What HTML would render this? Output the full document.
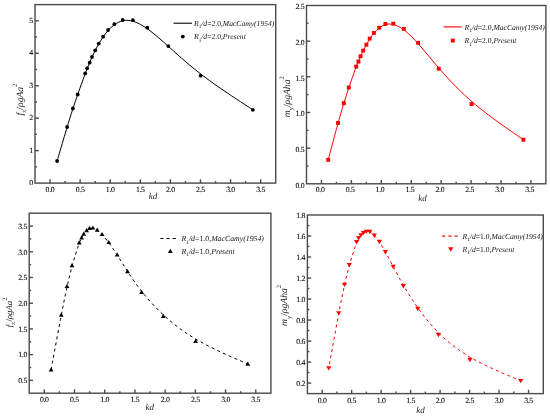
<!DOCTYPE html>
<html><head><meta charset="utf-8"><title>Figure</title>
<style>
html,body{margin:0;padding:0;background:#fff;}
body{width:550px;height:416px;overflow:hidden;}
svg{display:block;font-family:"Liberation Serif","Times New Roman",serif;text-rendering:geometricPrecision;}
</style></head><body>
<svg width="550" height="416" viewBox="0 0 550 416">
<rect width="550" height="416" fill="#fff"/>
<g stroke="#4a4a4a" stroke-width="1.4" fill="none"><line x1="50.04" y1="183.1" x2="50.04" y2="179.3"/><line x1="80.13" y1="183.1" x2="80.13" y2="179.3"/><line x1="110.22" y1="183.1" x2="110.22" y2="179.3"/><line x1="140.31" y1="183.1" x2="140.31" y2="179.3"/><line x1="170.39" y1="183.1" x2="170.39" y2="179.3"/><line x1="200.48" y1="183.1" x2="200.48" y2="179.3"/><line x1="230.57" y1="183.1" x2="230.57" y2="179.3"/><line x1="260.66" y1="183.1" x2="260.66" y2="179.3"/><line x1="65.09" y1="183.1" x2="65.09" y2="181.1"/><line x1="95.17" y1="183.1" x2="95.17" y2="181.1"/><line x1="125.26" y1="183.1" x2="125.26" y2="181.1"/><line x1="155.35" y1="183.1" x2="155.35" y2="181.1"/><line x1="185.44" y1="183.1" x2="185.44" y2="181.1"/><line x1="215.52" y1="183.1" x2="215.52" y2="181.1"/><line x1="245.61" y1="183.1" x2="245.61" y2="181.1"/><line x1="35" y1="150.65" x2="38.8" y2="150.65"/><line x1="35" y1="118.19" x2="38.8" y2="118.19"/><line x1="35" y1="85.74" x2="38.8" y2="85.74"/><line x1="35" y1="53.28" x2="38.8" y2="53.28"/><line x1="35" y1="20.83" x2="38.8" y2="20.83"/><line x1="35" y1="166.87" x2="37" y2="166.87"/><line x1="35" y1="134.42" x2="37" y2="134.42"/><line x1="35" y1="101.96" x2="37" y2="101.96"/><line x1="35" y1="69.51" x2="37" y2="69.51"/><line x1="35" y1="37.05" x2="37" y2="37.05"/><rect x="35" y="4.6" width="240.7" height="178.5" fill="none"/></g><g fill="#000" stroke="#000" stroke-width="0.08" font-size="7.8" letter-spacing="-0.3"><text x="32.8" y="185.3" text-anchor="end">0</text><text x="32.8" y="152.85" text-anchor="end">1</text><text x="32.8" y="120.39" text-anchor="end">2</text><text x="32.8" y="87.94" text-anchor="end">3</text><text x="32.8" y="55.48" text-anchor="end">4</text><text x="32.8" y="23.03" text-anchor="end">5</text><text x="50.04" y="192" text-anchor="middle">0.0</text><text x="80.13" y="192" text-anchor="middle">0.5</text><text x="110.22" y="192" text-anchor="middle">1.0</text><text x="140.31" y="192" text-anchor="middle">1.5</text><text x="170.39" y="192" text-anchor="middle">2.0</text><text x="200.48" y="192" text-anchor="middle">2.5</text><text x="230.57" y="192" text-anchor="middle">3.0</text><text x="260.66" y="192" text-anchor="middle">3.5</text></g>
<g stroke="#4a4a4a" stroke-width="1.4" fill="none"><line x1="321.46" y1="183.8" x2="321.46" y2="180"/><line x1="351.39" y1="183.8" x2="351.39" y2="180"/><line x1="381.31" y1="183.8" x2="381.31" y2="180"/><line x1="411.24" y1="183.8" x2="411.24" y2="180"/><line x1="441.16" y1="183.8" x2="441.16" y2="180"/><line x1="471.09" y1="183.8" x2="471.09" y2="180"/><line x1="501.01" y1="183.8" x2="501.01" y2="180"/><line x1="530.94" y1="183.8" x2="530.94" y2="180"/><line x1="336.43" y1="183.8" x2="336.43" y2="181.8"/><line x1="366.35" y1="183.8" x2="366.35" y2="181.8"/><line x1="396.27" y1="183.8" x2="396.27" y2="181.8"/><line x1="426.2" y1="183.8" x2="426.2" y2="181.8"/><line x1="456.12" y1="183.8" x2="456.12" y2="181.8"/><line x1="486.05" y1="183.8" x2="486.05" y2="181.8"/><line x1="515.97" y1="183.8" x2="515.97" y2="181.8"/><line x1="306.5" y1="148.14" x2="310.3" y2="148.14"/><line x1="306.5" y1="112.48" x2="310.3" y2="112.48"/><line x1="306.5" y1="76.82" x2="310.3" y2="76.82"/><line x1="306.5" y1="41.16" x2="310.3" y2="41.16"/><line x1="306.5" y1="165.97" x2="308.5" y2="165.97"/><line x1="306.5" y1="130.31" x2="308.5" y2="130.31"/><line x1="306.5" y1="94.65" x2="308.5" y2="94.65"/><line x1="306.5" y1="58.99" x2="308.5" y2="58.99"/><line x1="306.5" y1="23.33" x2="308.5" y2="23.33"/><rect x="306.5" y="5.5" width="239.4" height="178.3" fill="none"/></g><g fill="#000" stroke="#000" stroke-width="0.08" font-size="7.8" letter-spacing="-0.3"><text x="304.3" y="187.5" text-anchor="end">0.0</text><text x="304.3" y="151.84" text-anchor="end">0.5</text><text x="304.3" y="116.18" text-anchor="end">1.0</text><text x="304.3" y="80.52" text-anchor="end">1.5</text><text x="304.3" y="44.86" text-anchor="end">2.0</text><text x="304.3" y="9.2" text-anchor="end">2.5</text><text x="320.16" y="192.1" text-anchor="middle">0.0</text><text x="350.09" y="192.1" text-anchor="middle">0.5</text><text x="380.01" y="192.1" text-anchor="middle">1.0</text><text x="409.94" y="192.1" text-anchor="middle">1.5</text><text x="439.86" y="192.1" text-anchor="middle">2.0</text><text x="469.79" y="192.1" text-anchor="middle">2.5</text><text x="499.71" y="192.1" text-anchor="middle">3.0</text><text x="529.64" y="192.1" text-anchor="middle">3.5</text></g>
<g stroke="#4a4a4a" stroke-width="1.4" fill="none"><line x1="44.31" y1="393.2" x2="44.31" y2="389.4"/><line x1="74.52" y1="393.2" x2="74.52" y2="389.4"/><line x1="104.73" y1="393.2" x2="104.73" y2="389.4"/><line x1="134.94" y1="393.2" x2="134.94" y2="389.4"/><line x1="165.16" y1="393.2" x2="165.16" y2="389.4"/><line x1="195.37" y1="393.2" x2="195.37" y2="389.4"/><line x1="225.58" y1="393.2" x2="225.58" y2="389.4"/><line x1="255.79" y1="393.2" x2="255.79" y2="389.4"/><line x1="59.41" y1="393.2" x2="59.41" y2="391.2"/><line x1="89.62" y1="393.2" x2="89.62" y2="391.2"/><line x1="119.84" y1="393.2" x2="119.84" y2="391.2"/><line x1="150.05" y1="393.2" x2="150.05" y2="391.2"/><line x1="180.26" y1="393.2" x2="180.26" y2="391.2"/><line x1="210.47" y1="393.2" x2="210.47" y2="391.2"/><line x1="240.69" y1="393.2" x2="240.69" y2="391.2"/><line x1="29.2" y1="380.34" x2="33" y2="380.34"/><line x1="29.2" y1="354.63" x2="33" y2="354.63"/><line x1="29.2" y1="328.91" x2="33" y2="328.91"/><line x1="29.2" y1="303.2" x2="33" y2="303.2"/><line x1="29.2" y1="277.49" x2="33" y2="277.49"/><line x1="29.2" y1="251.77" x2="33" y2="251.77"/><line x1="29.2" y1="226.06" x2="33" y2="226.06"/><line x1="29.2" y1="367.49" x2="31.2" y2="367.49"/><line x1="29.2" y1="341.77" x2="31.2" y2="341.77"/><line x1="29.2" y1="316.06" x2="31.2" y2="316.06"/><line x1="29.2" y1="290.34" x2="31.2" y2="290.34"/><line x1="29.2" y1="264.63" x2="31.2" y2="264.63"/><line x1="29.2" y1="238.91" x2="31.2" y2="238.91"/><rect x="29.2" y="213.2" width="241.7" height="180" fill="none"/></g><g fill="#000" stroke="#000" stroke-width="0.08" font-size="7.8" letter-spacing="-0.3"><text x="27" y="383.14" text-anchor="end">0.5</text><text x="27" y="357.43" text-anchor="end">1.0</text><text x="27" y="331.71" text-anchor="end">1.5</text><text x="27" y="306" text-anchor="end">2.0</text><text x="27" y="280.29" text-anchor="end">2.5</text><text x="27" y="254.57" text-anchor="end">3.0</text><text x="27" y="228.86" text-anchor="end">3.5</text><text x="44.31" y="402.2" text-anchor="middle">0.0</text><text x="74.52" y="402.2" text-anchor="middle">0.5</text><text x="104.73" y="402.2" text-anchor="middle">1.0</text><text x="134.94" y="402.2" text-anchor="middle">1.5</text><text x="165.16" y="402.2" text-anchor="middle">2.0</text><text x="195.37" y="402.2" text-anchor="middle">2.5</text><text x="225.58" y="402.2" text-anchor="middle">3.0</text><text x="255.79" y="402.2" text-anchor="middle">3.5</text></g>
<g stroke="#4a4a4a" stroke-width="1.4" fill="none"><line x1="322.14" y1="393.6" x2="322.14" y2="389.8"/><line x1="351.63" y1="393.6" x2="351.63" y2="389.8"/><line x1="381.12" y1="393.6" x2="381.12" y2="389.8"/><line x1="410.61" y1="393.6" x2="410.61" y2="389.8"/><line x1="440.09" y1="393.6" x2="440.09" y2="389.8"/><line x1="469.58" y1="393.6" x2="469.58" y2="389.8"/><line x1="499.07" y1="393.6" x2="499.07" y2="389.8"/><line x1="528.56" y1="393.6" x2="528.56" y2="389.8"/><line x1="336.89" y1="393.6" x2="336.89" y2="391.6"/><line x1="366.38" y1="393.6" x2="366.38" y2="391.6"/><line x1="395.86" y1="393.6" x2="395.86" y2="391.6"/><line x1="425.35" y1="393.6" x2="425.35" y2="391.6"/><line x1="454.84" y1="393.6" x2="454.84" y2="391.6"/><line x1="484.32" y1="393.6" x2="484.32" y2="391.6"/><line x1="513.81" y1="393.6" x2="513.81" y2="391.6"/><line x1="307.4" y1="383.09" x2="311.2" y2="383.09"/><line x1="307.4" y1="362.08" x2="311.2" y2="362.08"/><line x1="307.4" y1="341.07" x2="311.2" y2="341.07"/><line x1="307.4" y1="320.06" x2="311.2" y2="320.06"/><line x1="307.4" y1="299.05" x2="311.2" y2="299.05"/><line x1="307.4" y1="278.04" x2="311.2" y2="278.04"/><line x1="307.4" y1="257.02" x2="311.2" y2="257.02"/><line x1="307.4" y1="236.01" x2="311.2" y2="236.01"/><line x1="307.4" y1="372.59" x2="309.4" y2="372.59"/><line x1="307.4" y1="351.58" x2="309.4" y2="351.58"/><line x1="307.4" y1="330.56" x2="309.4" y2="330.56"/><line x1="307.4" y1="309.55" x2="309.4" y2="309.55"/><line x1="307.4" y1="288.54" x2="309.4" y2="288.54"/><line x1="307.4" y1="267.53" x2="309.4" y2="267.53"/><line x1="307.4" y1="246.52" x2="309.4" y2="246.52"/><line x1="307.4" y1="225.51" x2="309.4" y2="225.51"/><rect x="307.4" y="215" width="235.9" height="178.6" fill="none"/></g><g fill="#000" stroke="#000" stroke-width="0.08" font-size="7.8" letter-spacing="-0.3"><text x="305.2" y="386.29" text-anchor="end">0.2</text><text x="305.2" y="365.28" text-anchor="end">0.4</text><text x="305.2" y="344.27" text-anchor="end">0.6</text><text x="305.2" y="323.26" text-anchor="end">0.8</text><text x="305.2" y="302.25" text-anchor="end">1.0</text><text x="305.2" y="281.24" text-anchor="end">1.2</text><text x="305.2" y="260.22" text-anchor="end">1.4</text><text x="305.2" y="239.21" text-anchor="end">1.6</text><text x="305.2" y="218.2" text-anchor="end">1.8</text><text x="322.14" y="402.6" text-anchor="middle">0.0</text><text x="351.63" y="402.6" text-anchor="middle">0.5</text><text x="381.12" y="402.6" text-anchor="middle">1.0</text><text x="410.61" y="402.6" text-anchor="middle">1.5</text><text x="440.09" y="402.6" text-anchor="middle">2.0</text><text x="469.58" y="402.6" text-anchor="middle">2.5</text><text x="499.07" y="402.6" text-anchor="middle">3.0</text><text x="528.56" y="402.6" text-anchor="middle">3.5</text></g>
<path d="M57.1 161C57.1 161 57.1 161 58.77 155.33C60.43 149.67 63.77 138.33 66.4 129.57C69.03 120.8 70.97 114.6 72.73 109.18C74.5 103.77 76.1 99.13 78.15 93.3C80.2 87.47 82.7 80.43 84.28 76.07C85.87 71.7 86.53 70 87.28 68.22C88.03 66.43 88.87 64.57 89.67 62.67C90.47 60.77 91.23 58.83 92.15 56.77C93.07 54.7 94.13 52.5 95.26 50.28C96.38 48.07 97.57 45.83 98.88 43.57C100.2 41.3 101.65 39 103.21 36.73C104.77 34.47 106.43 32.23 108.32 30.15C110.2 28.07 112.3 26.13 114.73 24.47C117.17 22.8 119.93 21.4 123.02 20.73C126.1 20.07 129.5 20.13 133.6 21.42C137.7 22.7 142.5 25.2 148.4 29.52C154.3 33.83 161.3 39.97 170.18 47.97C179.07 55.97 189.83 65.83 203.93 76.45C218.03 87.07 235.47 98.43 244.18 104.12C252.9 109.8 252.9 109.8 252.9 109.8" fill="none" stroke="#000" stroke-linejoin="round" stroke-width="1.0"/>
<path d="M328.2 159.8C328.2 159.8 328.2 159.8 329.83 153.67C331.47 147.53 334.73 135.27 337.33 125.83C339.93 116.4 341.87 109.8 343.67 103.88C345.47 97.97 347.13 92.73 349.2 86.63C351.27 80.53 353.73 73.57 355.33 69.25C356.93 64.93 357.67 63.27 358.38 61.55C359.1 59.83 359.8 58.07 360.6 56.23C361.4 54.4 362.3 52.5 363.28 50.57C364.27 48.63 365.33 46.67 366.42 44.67C367.5 42.67 368.6 40.63 369.85 38.67C371.1 36.7 372.5 34.8 374.08 32.98C375.67 31.17 377.43 29.43 379.35 27.95C381.27 26.47 383.33 25.23 385.68 24.57C388.03 23.9 390.67 23.8 393.75 24.62C396.83 25.43 400.37 27.17 404.5 30.35C408.63 33.53 413.37 38.17 419.18 44.8C424.98 51.43 431.87 60.07 440.78 70.28C449.7 80.48 460.65 92.27 474.76 104.1C488.87 115.93 506.13 127.82 514.77 133.76C523.4 139.7 523.4 139.7 523.4 139.7" fill="none" stroke="#f00" stroke-width="1.0"/>
<path d="M51.1 369.7C51.1 369.7 51.1 369.7 52.78 360.6C54.47 351.5 57.83 333.3 60.48 319.42C63.13 305.53 65.07 295.97 66.87 287.7C68.67 279.43 70.33 272.47 72.37 265.18C74.4 257.9 76.8 250.3 78.4 245.67C80 241.03 80.8 239.37 81.55 237.93C82.3 236.5 83 235.3 83.83 234.1C84.67 232.9 85.63 231.7 86.6 230.73C87.57 229.77 88.53 229.03 89.58 228.6C90.63 228.17 91.77 228.03 93.05 228.32C94.33 228.6 95.77 229.3 97.3 230.38C98.83 231.47 100.47 232.93 102.4 235C104.33 237.07 106.57 239.73 109.08 243.15C111.6 246.57 114.4 250.73 117.52 255.6C120.63 260.47 124.07 266.03 128.13 272.27C132.2 278.5 136.9 285.4 142.87 292.83C148.83 300.27 156.07 308.23 165.07 316.4C174.07 324.57 184.83 332.93 198.92 340.9C213 348.87 230.4 356.43 239.1 360.22C247.8 364 247.8 364 247.8 364" fill="none" stroke="#000" stroke-width="1.0" stroke-dasharray="3.0 3.2" stroke-dashoffset="0"/>
<path d="M328.8 367.9C328.8 367.9 328.8 367.9 330.45 358.73C332.1 349.57 335.4 331.23 338.02 317.32C340.63 303.4 342.57 293.9 344.33 285.87C346.1 277.83 347.7 271.27 349.72 264.17C351.73 257.07 354.17 249.43 355.72 244.97C357.27 240.5 357.93 239.2 358.65 238.05C359.37 236.9 360.13 235.9 360.93 235.03C361.73 234.17 362.57 233.43 363.47 232.85C364.37 232.27 365.33 231.83 366.4 231.65C367.47 231.47 368.63 231.53 369.97 232.18C371.3 232.83 372.8 234.07 374.4 235.72C376 237.37 377.7 239.43 379.55 242.18C381.4 244.93 383.4 248.37 385.7 252.52C388 256.67 390.6 261.53 393.58 267.2C396.57 272.87 399.93 279.33 404.03 286.37C408.13 293.4 412.97 301 418.82 309.13C424.67 317.27 431.53 325.93 440.22 334.42C448.9 342.9 459.4 351.2 473.12 358.88C486.83 366.57 503.77 373.63 512.23 377.17C520.7 380.7 520.7 380.7 520.7 380.7" fill="none" stroke="#f00" stroke-width="1.0" stroke-dasharray="3.0 3.2" stroke-dashoffset="2.4"/>
<g fill="#000"><circle cx="57.1" cy="161" r="1.9"/><circle cx="67.1" cy="127" r="1.9"/><circle cx="72.9" cy="108.4" r="1.9"/><circle cx="77.7" cy="94.5" r="1.9"/><circle cx="85.2" cy="73.4" r="1.9"/><circle cx="87.2" cy="68.3" r="1.9"/><circle cx="89.7" cy="62.7" r="1.9"/><circle cx="92" cy="56.9" r="1.9"/><circle cx="95.2" cy="50.3" r="1.9"/><circle cx="98.75" cy="43.6" r="1.9"/><circle cx="103.1" cy="36.7" r="1.9"/><circle cx="108.1" cy="30" r="1.9"/><circle cx="114.4" cy="24.2" r="1.9"/><circle cx="122.7" cy="20" r="1.9"/><circle cx="132.9" cy="20.2" r="1.9"/><circle cx="147.3" cy="27.7" r="1.9"/><circle cx="168.3" cy="46.1" r="1.9"/><circle cx="200.6" cy="75.7" r="1.9"/><circle cx="252.9" cy="109.8" r="1.9"/></g>
<g fill="#f00"><rect x="326.25" y="157.85" width="3.9" height="3.9"/><rect x="336.05" y="121.05" width="3.9" height="3.9"/><rect x="341.85" y="101.25" width="3.9" height="3.9"/><rect x="346.85" y="85.55" width="3.9" height="3.9"/><rect x="354.25" y="64.65" width="3.9" height="3.9"/><rect x="356.45" y="59.65" width="3.9" height="3.9"/><rect x="358.55" y="54.35" width="3.9" height="3.9"/><rect x="361.25" y="48.65" width="3.9" height="3.9"/><rect x="364.45" y="42.75" width="3.9" height="3.9"/><rect x="367.75" y="36.65" width="3.9" height="3.9"/><rect x="371.95" y="30.95" width="3.9" height="3.9"/><rect x="377.25" y="25.75" width="3.9" height="3.9"/><rect x="383.45" y="22.05" width="3.9" height="3.9"/><rect x="391.35" y="21.75" width="3.9" height="3.9"/><rect x="401.95" y="26.95" width="3.9" height="3.9"/><rect x="416.15" y="40.85" width="3.9" height="3.9"/><rect x="436.8" y="66.75" width="3.9" height="3.9"/><rect x="469.65" y="102.1" width="3.9" height="3.9"/><rect x="521.45" y="137.75" width="3.9" height="3.9"/></g>
<g fill="#000"><path d="M51.1 367.18L53.5 371.38L48.7 371.38Z"/><path d="M61.2 312.58L63.6 316.78L58.8 316.78Z"/><path d="M67 283.88L69.4 288.08L64.6 288.08Z"/><path d="M72 262.98L74.4 267.18L69.6 267.18Z"/><path d="M79.2 240.18L81.6 244.38L76.8 244.38Z"/><path d="M81.6 235.18L84 239.38L79.2 239.38Z"/><path d="M83.7 231.58L86.1 235.78L81.3 235.78Z"/><path d="M86.6 227.98L89 232.18L84.2 232.18Z"/><path d="M89.5 225.78L91.9 229.98L87.1 229.98Z"/><path d="M92.9 225.38L95.3 229.58L90.5 229.58Z"/><path d="M97.2 227.48L99.6 231.68L94.8 231.68Z"/><path d="M102.1 231.88L104.5 236.08L99.7 236.08Z"/><path d="M108.8 239.88L111.2 244.08L106.4 244.08Z"/><path d="M117.2 252.38L119.6 256.58L114.8 256.58Z"/><path d="M127.5 269.08L129.9 273.28L125.1 273.28Z"/><path d="M141.6 289.78L144 293.98L139.2 293.98Z"/><path d="M163.3 313.68L165.7 317.88L160.9 317.88Z"/><path d="M195.6 338.78L198 342.98L193.2 342.98Z"/><path d="M247.8 361.48L250.2 365.68L245.4 365.68Z"/></g>
<g fill="#f00"><path d="M328.8 370.54L331.4 366.14L326.2 366.14Z"/><path d="M338.7 315.54L341.3 311.14L336.1 311.14Z"/><path d="M344.5 287.04L347.1 282.64L341.9 282.64Z"/><path d="M349.3 267.34L351.9 262.94L346.7 262.94Z"/><path d="M356.6 244.44L359.2 240.04L354 240.04Z"/><path d="M358.6 240.54L361.2 236.14L356 236.14Z"/><path d="M360.9 237.54L363.5 233.14L358.3 233.14Z"/><path d="M363.4 235.34L366 230.94L360.8 230.94Z"/><path d="M366.3 234.04L368.9 229.64L363.7 229.64Z"/><path d="M369.8 234.24L372.4 229.84L367.2 229.84Z"/><path d="M374.3 237.94L376.9 233.54L371.7 233.54Z"/><path d="M379.4 244.14L382 239.74L376.8 239.74Z"/><path d="M385.4 254.44L388 250.04L382.8 250.04Z"/><path d="M393.2 269.04L395.8 264.64L390.6 264.64Z"/><path d="M403.3 288.44L405.9 284.04L400.7 284.04Z"/><path d="M417.8 311.24L420.4 306.84L415.2 306.84Z"/><path d="M438.4 337.24L441 332.84L435.8 332.84Z"/><path d="M469.9 362.14L472.5 357.74L467.3 357.74Z"/><path d="M520.7 383.34L523.3 378.94L518.1 378.94Z"/></g>
<g font-size="7.6" fill="#111"><line x1="173.5" y1="23.2" x2="192" y2="23.2" stroke="#000" stroke-width="1.1"/><circle cx="182.8" cy="36.6" r="1.9" fill="#000"/><text x="194" y="25.9"><tspan font-style="italic">R</tspan><tspan font-size="5.2" dy="2.4">1</tspan><tspan dy="-2.4" font-style="italic">/d</tspan>=2.0,<tspan font-style="italic">MacCamy(1954)</tspan></text><text x="194" y="39.3"><tspan font-style="italic">R</tspan><tspan font-size="5.2" dy="2.4">1</tspan><tspan dy="-2.4" font-style="italic">/d</tspan>=2.0,<tspan font-style="italic">Present</tspan></text></g>
<g font-size="7.6" fill="#111"><line x1="443.5" y1="26.9" x2="461.8" y2="26.9" stroke="#f00" stroke-width="1.1"/><rect x="450.85" y="38.65" width="3.9" height="3.9" fill="#f00"/><text x="464.6" y="29.6"><tspan font-style="italic">R</tspan><tspan font-size="5.2" dy="2.4">1</tspan><tspan dy="-2.4" font-style="italic">/d</tspan>=2.0,<tspan font-style="italic">MacCamy(1954)</tspan></text><text x="464.6" y="43.3"><tspan font-style="italic">R</tspan><tspan font-size="5.2" dy="2.4">1</tspan><tspan dy="-2.4" font-style="italic">/d</tspan>=2.0,<tspan font-style="italic">Present</tspan></text></g>
<g font-size="7.8" fill="#111"><line x1="160.4" y1="238.5" x2="176" y2="238.5" stroke="#000" stroke-width="1.1" stroke-dasharray="3.0 3.2"/><g fill="#000"><path d="M170.3 248.68L172.7 252.88L167.9 252.88Z"/></g><text x="181.6" y="241.2"><tspan font-style="italic">R</tspan><tspan font-size="5.2" dy="2.4">1</tspan><tspan dy="-2.4" font-style="italic">/d</tspan>=1.0,<tspan font-style="italic">MacCamy(1954)</tspan></text><text x="181.6" y="253.9"><tspan font-style="italic">R</tspan><tspan font-size="5.2" dy="2.4">1</tspan><tspan dy="-2.4" font-style="italic">/d</tspan>=1.0,<tspan font-style="italic">Present</tspan></text></g>
<g font-size="7.6" fill="#111"><line x1="442.2" y1="236.1" x2="457.6" y2="236.1" stroke="#f00" stroke-width="1.1" stroke-dasharray="3.0 3.2"/><g fill="#f00"><path d="M450.7 251.74L453.3 247.34L448.1 247.34Z"/></g><text x="462.6" y="238.8"><tspan font-style="italic">R</tspan><tspan font-size="5.2" dy="2.4">1</tspan><tspan dy="-2.4" font-style="italic">/d</tspan>=1.0,<tspan font-style="italic">MacCamy(1954)</tspan></text><text x="462.6" y="251.8"><tspan font-style="italic">R</tspan><tspan font-size="5.2" dy="2.4">1</tspan><tspan dy="-2.4" font-style="italic">/d</tspan>=1.0,<tspan font-style="italic">Present</tspan></text></g>
<text x="153" y="199.3" text-anchor="middle" font-style="italic" font-size="9.0" fill="#222">kd</text>
<text x="422.6" y="200.8" text-anchor="middle" font-style="italic" font-size="9.0" fill="#222">kd</text>
<text x="149.7" y="410" text-anchor="middle" font-style="italic" font-size="9.0" fill="#222">kd</text>
<text x="420.4" y="412.8" text-anchor="middle" font-style="italic" font-size="9.0" fill="#222">kd</text>
<text transform="translate(22.9 99.6) rotate(-90)" text-anchor="middle" font-size="9.6" fill="#222"><tspan font-style="italic">f</tspan><tspan font-size="6.6" dy="3.3">x</tspan><tspan dy="-3.3">/</tspan><tspan font-style="italic">ρgAa</tspan><tspan font-size="6.6" dy="-5.8">2</tspan></text>
<text transform="translate(290 96.8) rotate(-90)" text-anchor="middle" font-size="9.6" fill="#222"><tspan font-style="italic">m</tspan><tspan font-size="6.6" dy="3.3">y</tspan><tspan dy="-3.3">/</tspan><tspan font-style="italic">ρgAha</tspan><tspan font-size="6.6" dy="-5.8">2</tspan></text>
<text transform="translate(11.6 312.4) rotate(-90)" text-anchor="middle" font-size="8.8" fill="#222"><tspan font-style="italic">f</tspan><tspan font-size="6.6" dy="3.3">x</tspan><tspan dy="-3.3">/</tspan><tspan font-style="italic">ρgAa</tspan><tspan font-size="6.6" dy="-4.4">2</tspan></text>
<text transform="translate(287.2 305.5) rotate(-90)" text-anchor="middle" font-size="9.6" fill="#222"><tspan font-style="italic">m</tspan><tspan font-size="6.6" dy="3.3">y</tspan><tspan dy="-3.3">/</tspan><tspan font-style="italic">ρgAha</tspan><tspan font-size="6.6" dy="-5.8">2</tspan></text>
</svg>
</body></html>
